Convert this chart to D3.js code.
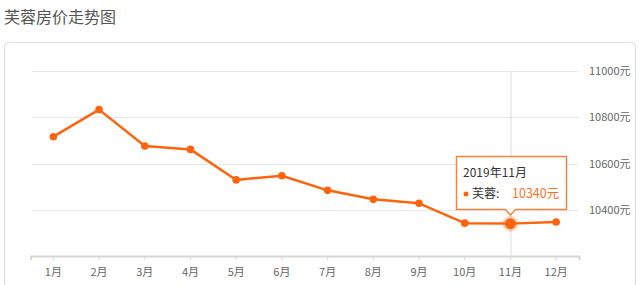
<!DOCTYPE html>
<html>
<head>
<meta charset="utf-8">
<script src="https://cdn.jsdelivr.net/npm/d3@7"></script>
<style>
  body { margin: 0; background: #fff; font-family: "Noto Sans CJK SC", "Noto Sans", sans-serif; }
</style>
</head>
<body>
<script>
// chart data
var months = ["1月", "2月", "3月", "4月", "5月", "6月", "7月", "8月", "9月", "10月", "11月", "12月"];
var prices = [10716, 10833, 10676, 10661, 10529, 10547, 10484, 10445, 10428, 10342, 10340, 10347];
var yTicks = [10400, 10600, 10800, 11000];
var title = "芙蓉房价走势图";
var seriesName = "芙蓉";
var tipTitle = "2019年11月";
var active = 10;

var width = 641,
    height = 285;

var orange = "#fd640d";

var svg = d3.select("body")
            .append("svg")
            .attr("width", width)
            .attr("height", height);

svg.append("text")
   .attr("x", 4)
   .attr("y", 23)
   .attr("font-size", 16)
   .attr("fill", "#555")
   .text(title);

// card frame
svg.append("rect")
   .attr("x", 4.5)
   .attr("y", 42.5)
   .attr("width", 631)
   .attr("height", 260)
   .attr("rx", 4)
   .attr("fill", "#fff")
   .attr("stroke", "#dedede");

var x = d3.scaleBand()
          .domain(months)
          .range([30.5, 579]);

var y = d3.scaleLinear()
          .domain([10200, 11000])
          .range([256, 71]);

var cx = d => x(d) + x.bandwidth() / 2;

// grid lines
svg.append("g")
   .selectAll("line")
   .data(yTicks)
   .enter()
   .append("line")
     .attr("x1", 32)
     .attr("x2", 579)
     .attr("y1", d => Math.round(y(d)) + 0.5)
     .attr("y2", d => Math.round(y(d)) + 0.5)
     .attr("stroke", "#e8e8e8");

// y labels
svg.append("g")
   .selectAll("text")
   .data(yTicks)
   .enter()
   .append("text")
     .attr("x", 589)
     .attr("y", d => y(d) + 4)
     .attr("font-size", 11)
     .attr("fill", "#666")
     .text(d => d + "元");

// x axis
var xAxis = svg.append("g")
               .attr("transform", "translate(0,256)")
               .call(d3.axisBottom(x).tickSize(4).tickPadding(8));
xAxis.select(".domain").attr("stroke", "#d6d6d6").attr("stroke-width", 2);
xAxis.selectAll(".tick line").attr("stroke", "#d6d6d6");
xAxis.selectAll(".tick text")
     .attr("font-size", 11)
     .attr("fill", "#666")
     .attr("font-family", "\"Noto Sans CJK SC\", sans-serif");

// crosshair
svg.append("line")
   .attr("x1", cx(months[active]) + 0.5)
   .attr("x2", cx(months[active]) + 0.5)
   .attr("y1", 71)
   .attr("y2", 256)
   .attr("stroke", "#dcdcdc");

// line
var line = d3.line()
             .x((d, i) => cx(months[i]))
             .y(d => y(d));

svg.append("path")
   .datum(prices)
   .attr("d", line)
   .attr("fill", "none")
   .attr("stroke", orange)
   .attr("stroke-width", 2.5)
   .attr("stroke-linejoin", "round");

svg.append("g")
   .selectAll("circle")
   .data(prices)
   .enter()
   .append("circle")
     .attr("cx", (d, i) => cx(months[i]))
     .attr("cy", d => y(d))
     .attr("r", 3.8)
     .attr("fill", orange);

// highlighted point
svg.append("circle")
   .attr("cx", cx(months[active]))
   .attr("cy", y(prices[active]))
   .attr("r", 8)
   .attr("fill", orange)
   .attr("opacity", 0.25);
svg.append("circle")
   .attr("cx", cx(months[active]))
   .attr("cy", y(prices[active]))
   .attr("r", 5.5)
   .attr("fill", orange);

// tooltip
var tx = cx(months[active]);
var tip = svg.append("g");
tip.append("path")
   .attr("d", "M456.5,156.5 H566.5 V209.5 H" + (tx + 5) + " L" + tx + ",215 L" + (tx - 5) + ",209.5 H456.5 Z")
   .attr("fill", "#fff")
   .attr("stroke", "#f5843c")
   .attr("stroke-width", 1.5);
tip.append("text")
   .attr("x", 463)
   .attr("y", 177)
   .attr("font-size", 12)
   .attr("fill", "#333")
   .text(tipTitle);
tip.append("circle")
   .attr("cx", 466)
   .attr("cy", 194)
   .attr("r", 2.5)
   .attr("fill", orange);
tip.append("text")
   .attr("x", 472)
   .attr("y", 198)
   .attr("font-size", 12)
   .attr("fill", "#333")
   .text(seriesName + ":");
tip.append("text")
   .attr("x", 512)
   .attr("y", 198)
   .attr("font-size", 12.5)
   .attr("fill", "#f7742a")
   .text(prices[active] + "元");
</script>
</body>
</html>
